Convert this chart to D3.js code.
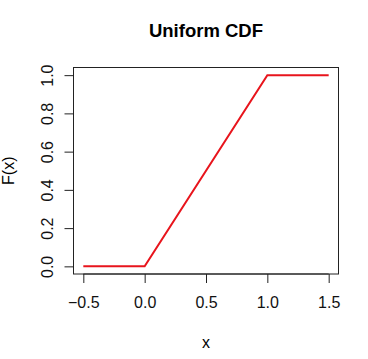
<!DOCTYPE html>
<html>
<head>
<meta charset="utf-8">
<script src="https://cdn.jsdelivr.net/npm/d3@7"></script>
<style>
  body { margin: 0; background: #fff; }
  text { font-family: "Liberation Sans", Arial, sans-serif; }
</style>
</head>
<body>
<div id="chart"></div>
<script>
// data
const xVals = [-0.5, 0, 1, 1.5];
const yVals = [0, 0, 1, 1];
const xTicks = [-0.5, 0, 0.5, 1, 1.5];
const yTicks = [0, 0.2, 0.4, 0.6, 0.8, 1];

(function(){
  let svgWidth = 368, svgHeight = 359;
  let margin = { top: 67.5, right: 29.5, bottom: 85, left: 73.5 };
  let width = svgWidth - margin.left - margin.right;
  let height = svgHeight - margin.top - margin.bottom;

  let svg = d3.select("#chart").append("svg")
    .attr("width", svgWidth).attr("height", svgHeight);

  let g = svg.append("g").attr("transform", `translate(${margin.left}, ${margin.top})`);

  // R style: 4% padding on the ranges
  let x = d3.scaleLinear().domain([-0.58, 1.58]).range([0, width]);
  let y = d3.scaleLinear().domain([-0.04, 1.04]).range([height, 0]);

  // box
  g.append("rect").attr("width", width).attr("height", height)
    .attr("fill", "none").attr("stroke", "#222").attr("stroke-width", 1);

  let xAxis = g.append("g").attr("transform", `translate(0, ${height})`)
    .call(d3.axisBottom(x).tickValues(xTicks).tickSize(9).tickPadding(10)
      .tickFormat(d3.format(".1f")));
  let yAxis = g.append("g")
    .call(d3.axisLeft(y).tickValues(yTicks).tickSize(9).tickPadding(10)
      .tickFormat(d3.format(".1f")));

  [xAxis, yAxis].forEach(a => {
    a.select(".domain").attr("stroke", "#222");
    a.selectAll(".tick line").attr("stroke", "#222");
    a.selectAll("text").attr("font-size", 16).attr("fill", "#111")
      .attr("font-family", "'Liberation Sans', Arial, sans-serif")
      .text(function(d){ return d3.format(".1f")(d).replace("-", "\u2212"); });
  });
  // axis lines span only first to last tick, like R
  yAxis.select(".domain").attr("d", `M0,${y(0)}V${y(1)}`);
  xAxis.select(".domain").attr("d", `M${x(-0.5)},0H${x(1.5)}`);

  // rotated y tick labels
  yAxis.selectAll(".tick text")
    .attr("transform", "rotate(-90)")
    .attr("x", 0).attr("y", -21)
    .attr("dy", 0)
    .style("text-anchor", "middle");

  xAxis.selectAll(".tick text").attr("dy", "0.95em");

  // the CDF line
  let line = d3.line().x((d, i) => x(xVals[i])).y((d, i) => y(yVals[i]));
  g.append("path").datum(xVals).attr("d", line)
    .attr("fill", "none").attr("stroke", "#e8141c").attr("stroke-width", 2);

  // title and axis labels
  svg.append("text").attr("x", 206).attr("y", 36.5)
    .attr("text-anchor", "middle").attr("font-size", 18.5).attr("font-weight", "bold")
    .text("Uniform CDF");
  svg.append("text").attr("x", 206).attr("y", 348)
    .attr("text-anchor", "middle").attr("font-size", 16)
    .text("x");
  svg.append("text").attr("transform", `translate(14, ${margin.top + height / 2}) rotate(-90)`)
    .attr("text-anchor", "middle").attr("font-size", 16)
    .text("F(x)");
})();
</script>
</body>
</html>
